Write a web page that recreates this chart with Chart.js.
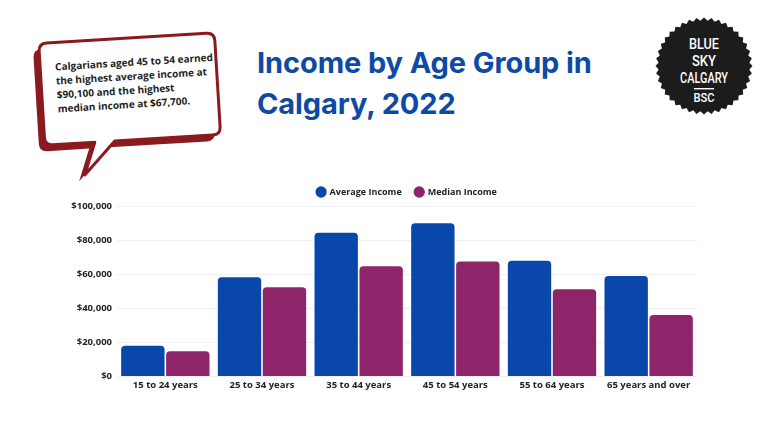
<!DOCTYPE html>
<html>
<head>
<meta charset="utf-8">
<script src="https://cdn.jsdelivr.net/npm/chart.js@4"></script>
<style>
  html, body { margin: 0; padding: 0; background: #fff; }
  body { width: 768px; height: 432px; position: relative; overflow: hidden; font-family: Inter, sans-serif; }
  #title { position: absolute; left: 257px; top: 42px; margin: 0; color: #0d4aa5; font: 700 29px/41px Inter, sans-serif; letter-spacing: -0.1px; }
  #bubble, #logo { position: absolute; }
  #bubble { left: 0; top: 0; }
  #logo { left: 650px; top: 12px; }
  #wrap { position: absolute; left: 0; top: 0; width: 768px; height: 432px; }
</style>
</head>
<body>
<svg id="bubble" width="260" height="190">
  <g transform="rotate(-3.5 130 95)">
    <path d="M42 46 Q42 38 50 38 L210 38 Q218 38 218 46 L218 132 Q218 140 210 140 L112 140 L80 172 L92 140 L50 140 Q42 140 42 132 Z" fill="#8b1a1f" transform="translate(-6 6)"/>
    <path d="M42 46 Q42 38 50 38 L210 38 Q218 38 218 46 L218 132 Q218 140 210 140 L112 140 L80 172 L92 140 L50 140 Q42 140 42 132 Z" fill="#fff" stroke="#8b1a1f" stroke-width="3" stroke-linejoin="round"/>
    <g font-family="'Open Sans', sans-serif" font-weight="700" font-size="10" fill="#222">
      <text x="57" y="66">Calgarians aged 45 to 54 earned</text>
      <text x="57" y="80">the highest average income at</text>
      <text x="57" y="94">$90,100 and the highest</text>
      <text x="57" y="108">median income at $67,700.</text>
    </g>
  </g>
</svg>
<h1 id="title">Income by Age Group in<br>Calgary, 2022</h1>
<svg id="logo" width="108" height="108" viewBox="0 0 108 108">
  <polygon id="seal" fill="#1c1c1c"/>
  <g fill="#fff" font-family="Roboto, sans-serif" font-weight="500" text-anchor="middle">
    <text x="54" y="37" font-size="14.5" textLength="30" lengthAdjust="spacingAndGlyphs">BLUE</text>
    <text x="54" y="54" font-size="14.5" textLength="24" lengthAdjust="spacingAndGlyphs">SKY</text>
    <text x="54" y="71" font-size="14.5" textLength="48" lengthAdjust="spacingAndGlyphs">CALGARY</text>
    <rect x="44" y="76" width="20" height="1.4"/>
    <text x="54" y="90" font-size="12" textLength="21" lengthAdjust="spacingAndGlyphs">BSC</text>
  </g>
</svg>
<div id="wrap"><canvas id="incomeChart" width="768" height="432"></canvas></div>
<script>
const ageGroups = ['15 to 24 years', '25 to 34 years', '35 to 44 years', '45 to 54 years', '55 to 64 years', '65 years and over'];
const averageIncome = [18200, 58400, 84500, 90100, 68100, 59200];
const medianIncome = [14900, 52500, 64900, 67700, 51300, 36200];

// serrated seal edge for the logo
(function () {
  const pts = [];
  const n = 40;
  for (let i = 0; i < n * 2; i++) {
    const r = i % 2 ? 45.5 : 48.5;
    const a = (Math.PI * i) / n;
    pts.push((54 + r * Math.cos(a)).toFixed(2) + ',' + (54 + r * Math.sin(a)).toFixed(2));
  }
  document.getElementById('seal').setAttribute('points', pts.join(' '));
})();

const tickFont = { family: "'Open Sans', sans-serif", weight: '700', size: 9.5 };

new Chart(document.getElementById('incomeChart'), {
  type: 'bar',
  data: {
    labels: ageGroups,
    datasets: [
      { label: 'Average Income', data: averageIncome, backgroundColor: '#0a47aa', borderRadius: 4, borderSkipped: 'start' },
      { label: 'Median Income', data: medianIncome, backgroundColor: '#8e246a', borderRadius: 4, borderSkipped: 'start' }
    ]
  },
  options: {
    responsive: false,
    animation: false,
    categoryPercentage: 0.93,
    barPercentage: 0.965,
    layout: { padding: { left: 59, right: 71, top: 174, bottom: 38 } },
    plugins: {
      legend: {
        position: 'top',
        fullSize: false,
        labels: {
          usePointStyle: true,
          pointStyle: 'circle',
          boxWidth: 8,
          boxHeight: 8,
          padding: 13.5,
          color: '#222',
          font: { family: "'Open Sans', sans-serif", weight: '700', size: 9 }
        }
      },
      tooltip: { enabled: false }
    },
    scales: {
      x: {
        grid: { display: false, drawTicks: false },
        border: { display: false },
        ticks: { color: '#222', font: tickFont, padding: 3 }
      },
      y: {
        min: 0,
        max: 100000,
        afterFit: s => { s.width = 58; },
        grid: { color: '#eef0f4', drawTicks: false },
        border: { display: false },
        ticks: {
          stepSize: 20000,
          color: '#222',
          font: tickFont,
          padding: 5,
          callback: v => '$' + Number(v).toLocaleString('en-US')
        }
      }
    }
  }
});
</script>
</body>
</html>
